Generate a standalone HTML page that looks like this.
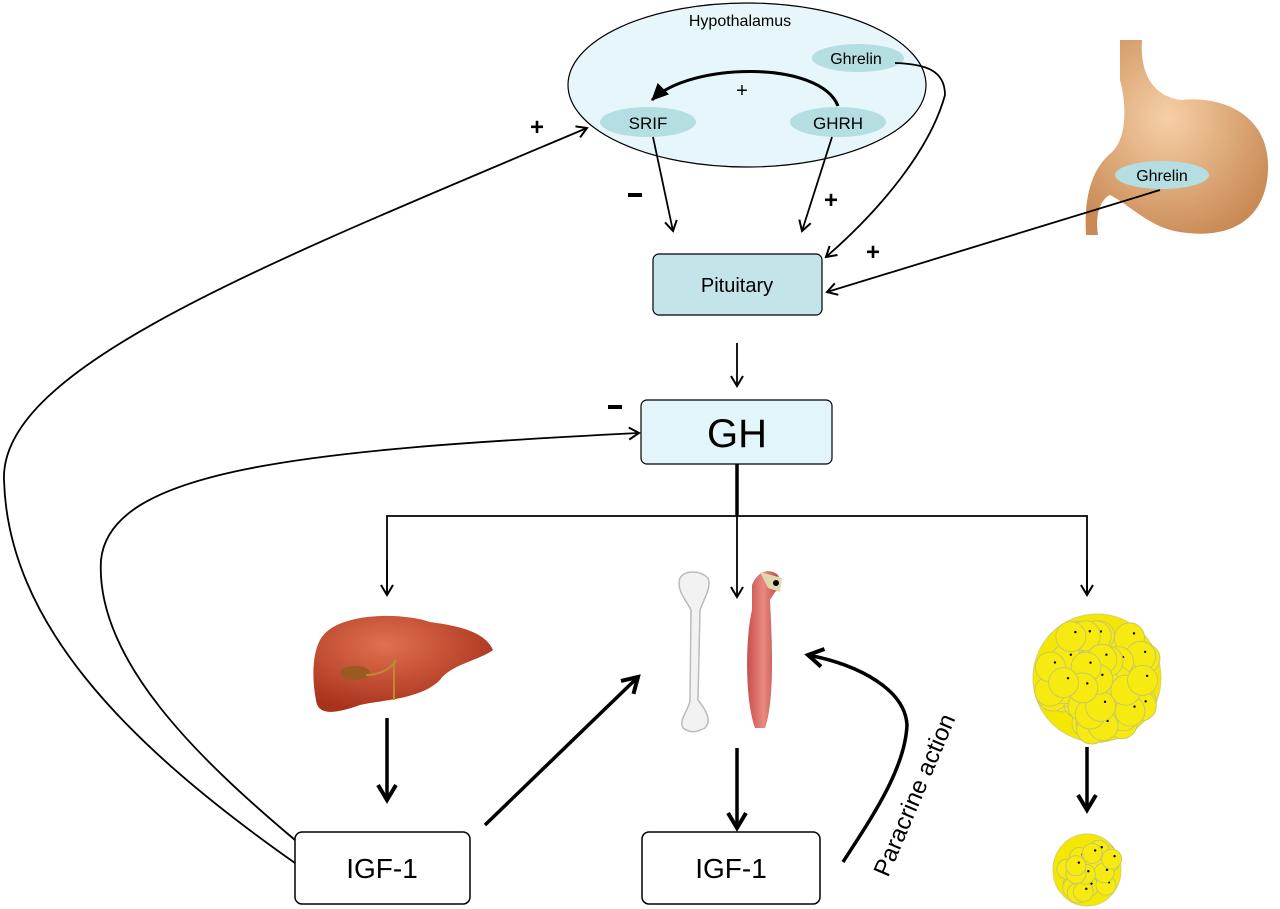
<!DOCTYPE html>
<html><head><meta charset="utf-8"><style>
html,body{margin:0;padding:0;background:#fff;}
svg{display:block;font-family:"Liberation Sans",Arial,sans-serif;}
</style></head><body>
<svg id="s" width="1280" height="909" viewBox="0 0 1280 909" xmlns="http://www.w3.org/2000/svg">
<defs>
<marker id="oa" markerWidth="14" markerHeight="14" refX="11" refY="7" orient="auto" markerUnits="userSpaceOnUse">
<path d="M1,1 L11,7 L1,13" fill="none" stroke="#000" stroke-width="2"/></marker>
<marker id="ta" markerWidth="22" markerHeight="22" refX="17" refY="11" orient="auto" markerUnits="userSpaceOnUse">
<path d="M2,2 L17,11 L2,20" fill="none" stroke="#000" stroke-width="4"/></marker>
<marker id="fa" markerWidth="20" markerHeight="20" refX="16" refY="10" orient="auto" markerUnits="userSpaceOnUse">
<path d="M0,2 L17,10 L0,18 Z" fill="#000"/></marker>
<radialGradient id="lv" cx="40%" cy="30%" r="70%"><stop offset="0" stop-color="#e0704f"/><stop offset="1" stop-color="#a8321c"/></radialGradient>
<radialGradient id="st" cx="45%" cy="40%" r="65%"><stop offset="0" stop-color="#f6d0a6"/><stop offset="1" stop-color="#c98a55"/></radialGradient>
<linearGradient id="mu" x1="0" x2="1"><stop offset="0" stop-color="#c8504a"/><stop offset=".5" stop-color="#e88a80"/><stop offset="1" stop-color="#b84540"/></linearGradient>
</defs>

<ellipse cx="747" cy="85" rx="179" ry="82" fill="#e6f6fa" stroke="#000" stroke-width="1.2"/>
<text x="740" y="26" font-size="16" text-anchor="middle">Hypothalamus</text>
<ellipse cx="858" cy="58" rx="46" ry="14" fill="#b5dee3"/>
<text x="856" y="64" font-size="16" text-anchor="middle">Ghrelin</text>
<ellipse cx="648" cy="122" rx="48" ry="15" fill="#b5dee3"/>
<text x="648" y="129" font-size="17" text-anchor="middle">SRIF</text>
<ellipse cx="838" cy="122" rx="48" ry="15" fill="#b5dee3"/>
<text x="838" y="129" font-size="17" text-anchor="middle">GHRH</text>
<path d="M838,106 C820,60 690,62 652,100" fill="none" stroke="#000" stroke-width="3" marker-end="url(#fa)"/>
<text x="742" y="97" font-size="20" text-anchor="middle">+</text>

<path d="M653,137 L673,231" fill="none" stroke="#000" stroke-width="1.8" marker-end="url(#oa)"/>
<path d="M832,137 L802,231" fill="none" stroke="#000" stroke-width="1.8" marker-end="url(#oa)"/>
<rect x="628" y="193" width="14" height="4" fill="#000"/>
<text x="831" y="208" font-size="24" font-weight="bold" text-anchor="middle">+</text>
<path d="M895,63 C925,64 945,70 945,95 C930,150 880,210 826,257" fill="none" stroke="#000" stroke-width="1.8" marker-end="url(#oa)"/>

<path d="M1120,40 L1142,40 C1140,70 1150,95 1180,100 C1230,95 1270,120 1268,170 C1266,220 1230,240 1180,232 C1150,228 1130,205 1110,195 C1100,200 1095,215 1098,235 L1086,235 C1084,200 1090,170 1112,152 C1125,140 1128,110 1120,80 Z" fill="url(#st)"/>
<ellipse cx="1162" cy="175" rx="47" ry="14" fill="#b5dee3"/>
<text x="1162" y="181" font-size="16" text-anchor="middle">Ghrelin</text>
<path d="M1160,190 L827,292" fill="none" stroke="#000" stroke-width="1.8" marker-end="url(#oa)"/>
<text x="873" y="260" font-size="24" font-weight="bold" text-anchor="middle">+</text>

<rect x="653" y="254" width="169" height="61" rx="6" fill="#c3e5e9" stroke="#000" stroke-width="1.2"/>
<text x="737" y="292" font-size="20" text-anchor="middle">Pituitary</text>
<path d="M737,343 L737,386" fill="none" stroke="#000" stroke-width="1.8" marker-end="url(#oa)"/>

<rect x="641" y="400" width="191" height="64" rx="6" fill="#e2f5fa" stroke="#000" stroke-width="1.2"/>
<text x="737" y="447" font-size="40" text-anchor="middle">GH</text>
<rect x="608" y="405" width="14" height="4" fill="#000"/>

<path d="M295,863 C120,740 8,620 4,480 C0,370 250,270 587,128" fill="none" stroke="#000" stroke-width="1.8" marker-end="url(#oa)"/>
<text x="537" y="135" font-size="24" font-weight="bold" text-anchor="middle">+</text>
<path d="M295,840 C200,760 95,660 101,560 C110,470 300,450 639,433" fill="none" stroke="#000" stroke-width="1.8" marker-end="url(#oa)"/>

<path d="M737,464 L737,515" stroke="#000" stroke-width="3.5"/>
<path d="M387,595 L387,516 L1087,516 L1087,595" fill="none" stroke="#000" stroke-width="1.8"/>
<path d="M387,560 L387,595" fill="none" stroke="#000" stroke-width="1.8" marker-end="url(#oa)"/>
<path d="M737,515 L737,597" fill="none" stroke="#000" stroke-width="1.8" marker-end="url(#oa)"/>
<path d="M1087,560 L1087,595" fill="none" stroke="#000" stroke-width="1.8" marker-end="url(#oa)"/>

<path d="M320,640 C335,612 400,612 430,622 C460,626 485,632 493,650 C480,660 450,665 440,680 C420,700 380,700 360,705 C340,712 318,718 316,700 C312,680 312,655 320,640 Z" fill="url(#lv)"/>
<ellipse cx="355" cy="673" rx="15" ry="7" fill="#9a5a20"/>
<path d="M366,675 C380,675 392,668 396,660 M394,662 L394,700" stroke="#c08a30" stroke-width="2" fill="none"/>
<path d="M387,718 L387,800" fill="none" stroke="#000" stroke-width="3.5" marker-end="url(#ta)"/>

<path d="M680,578 C685,570 700,570 708,578 C712,588 703,600 700,610 L698,700 C706,710 712,720 705,728 C695,733 690,733 683,728 C678,720 690,708 690,700 L691,610 C686,600 676,590 680,578 Z" fill="#f2f2f2" stroke="#bbb" stroke-width="1.5"/>
<path d="M752,585 C758,570 770,568 778,575 C782,582 780,590 775,592 L770,600 C772,640 775,700 765,728 L755,728 C745,700 745,640 752,610 Z" fill="url(#mu)"/>
<path d="M760,572 L782,578 L780,592 L768,588 Z" fill="#e0d6b0"/>
<circle cx="776" cy="583" r="3" fill="#000"/>
<path d="M737,748 L737,828" fill="none" stroke="#000" stroke-width="3.5" marker-end="url(#ta)"/>
<path d="M485,825 L638,677" fill="none" stroke="#000" stroke-width="3.5" marker-end="url(#ta)"/>

<rect x="295" y="832" width="175" height="72" rx="7" fill="#fff" stroke="#000" stroke-width="1.5"/>
<text x="382" y="878" font-size="28" text-anchor="middle">IGF-1</text>
<rect x="642" y="832" width="178" height="72" rx="7" fill="#fff" stroke="#000" stroke-width="1.5"/>
<text x="731" y="878" font-size="28" text-anchor="middle">IGF-1</text>

<path d="M843,862 C870,820 905,770 907,725 C905,690 860,665 808,655" fill="none" stroke="#000" stroke-width="3.5" marker-end="url(#ta)"/>
<text transform="translate(888,878) rotate(-67)" font-size="24">Paracrine action</text>

<g id="fat1"></g>
<path d="M1087,747 L1087,810" fill="none" stroke="#000" stroke-width="3.5" marker-end="url(#ta)"/>
<g id="fat2"></g>
</svg>
<script>
function fat(g,cx,cy,rx,ry,n,r,seed){
  var el=document.getElementById(g),s=seed,h='';
  function rnd(){s=(s*9301+49297)%233280;return s/233280;}
  h+='<ellipse cx="'+cx+'" cy="'+cy+'" rx="'+rx+'" ry="'+ry+'" fill="#f5e800" stroke="#d8d070"/>';
  for(var i=0;i<n;i++){var a=rnd()*6.283,d=Math.sqrt(rnd())*0.82;
    var x=cx+Math.cos(a)*d*rx,y=cy+Math.sin(a)*d*ry;
    h+='<circle cx="'+x+'" cy="'+y+'" r="'+r+'" fill="#f7ea10" stroke="#c9c860" stroke-width="1"/>';
    h+='<circle cx="'+(x+r*0.3)+'" cy="'+(y-r*0.3)+'" r="1.2" fill="#000"/>';}
  el.innerHTML=h;
}
fat('fat1',1097,678,64,64,70,15,7);
fat('fat2',1087,870,34,36,22,10,3);
</script>
</body></html>
